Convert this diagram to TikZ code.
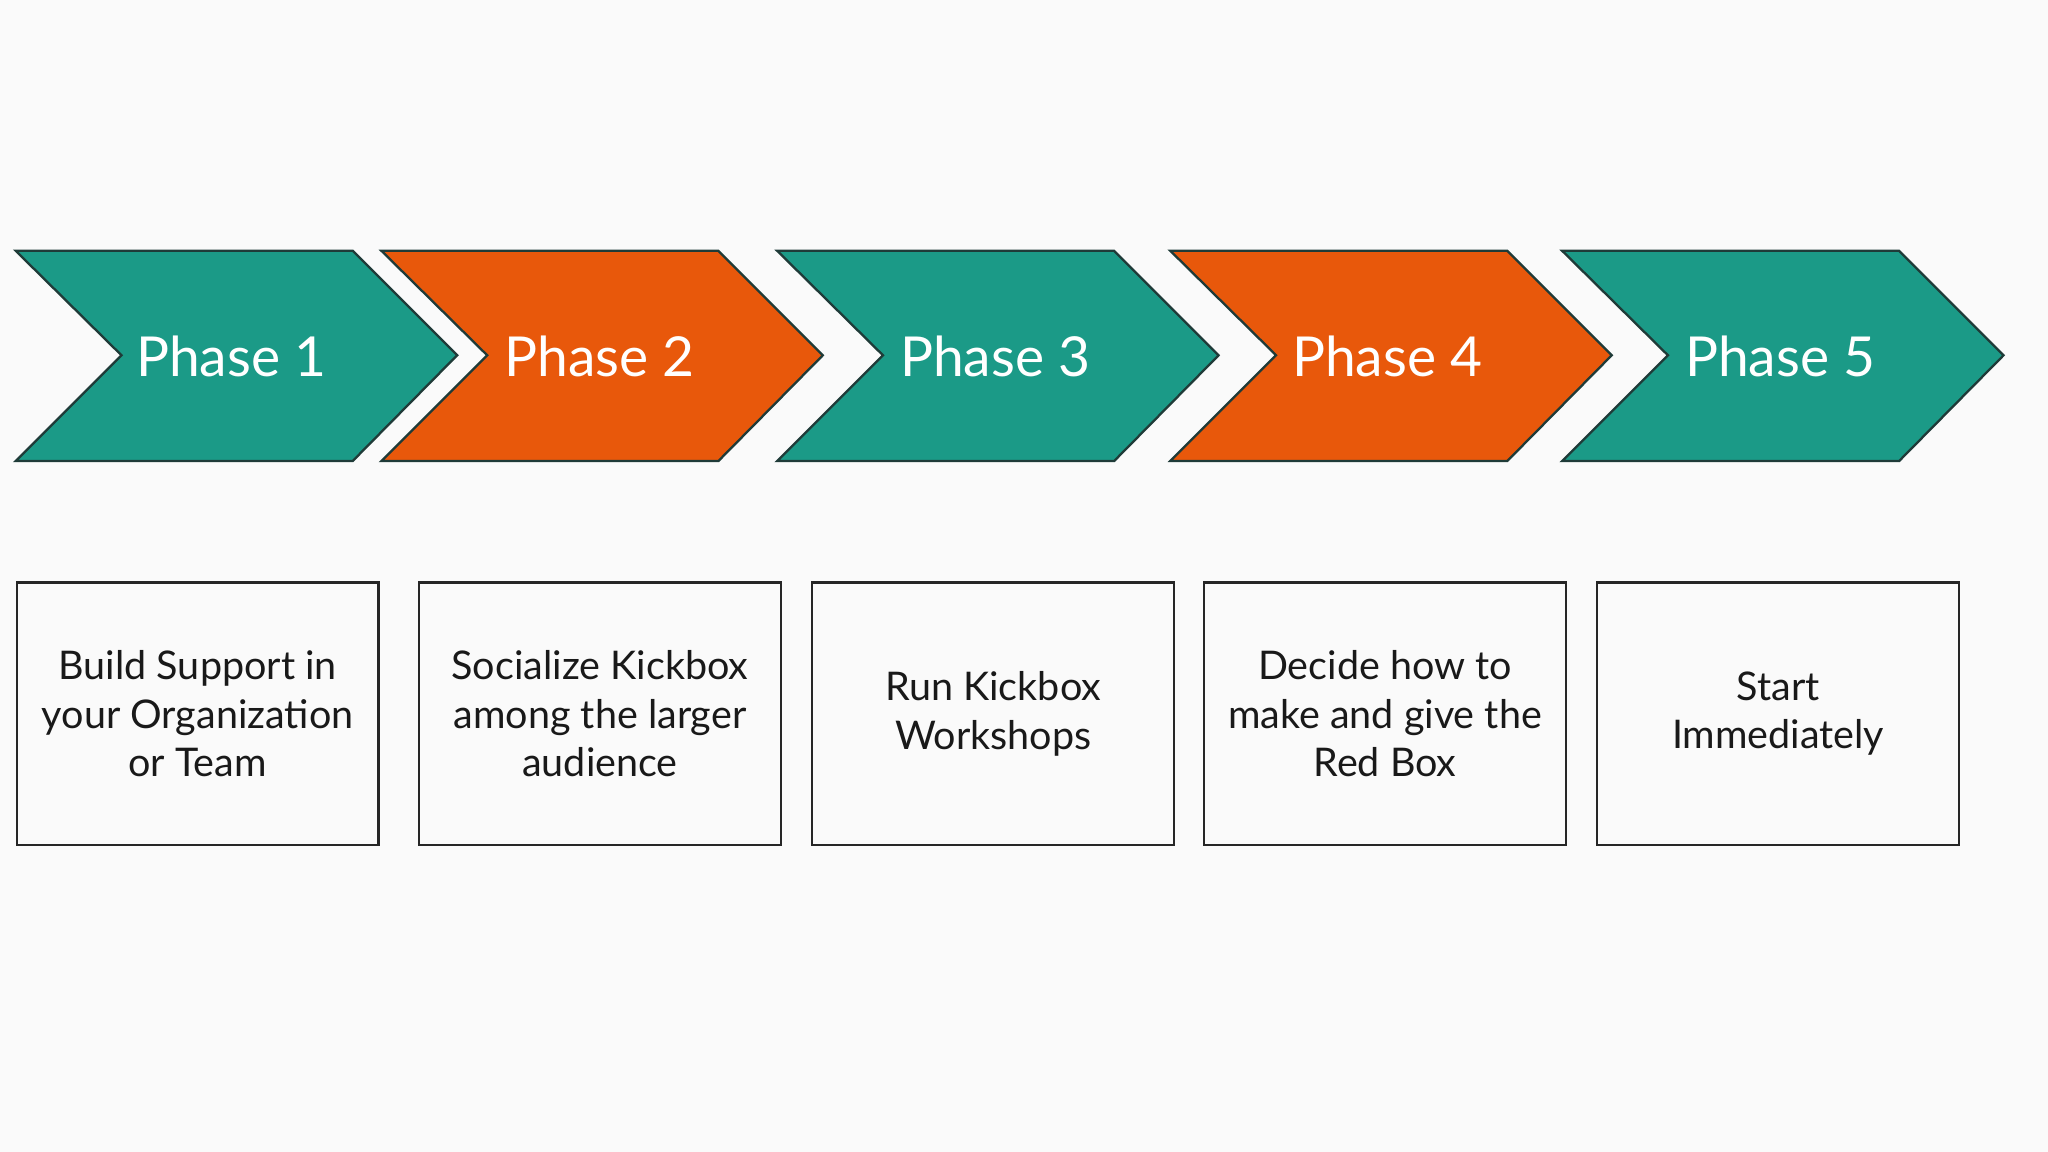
\documentclass[tikz,border=0pt]{standalone}
\usepackage{fontspec}
\setmainfont{Lato}
\definecolor{teal1}{HTML}{1B9A87}
\definecolor{orng}{HTML}{E8580B}
\definecolor{edge}{HTML}{1F3B38}
\begin{document}
\begin{tikzpicture}[x=0.01cm,y=-0.01cm,
  chev/.style={draw=edge,line width=0.5pt},
  ptext/.style={text=white,font=\fontsize{12}{14}\selectfont},
  box/.style={draw=black!85,line width=0.5pt,minimum width=277*0.01cm,minimum height=201*0.01cm,anchor=north west,inner sep=0},
  btext/.style={align=center,font=\fontsize{8.6}{10.6}\selectfont,text=black!90}]
\fill[white!98!black] (0,0) rectangle (1568,882);
\useasboundingbox (0,0) rectangle (1568,882);
\foreach \x/\c/\n in {12/teal1/1,292/orng/2,595/teal1/3,896/orng/4,1196/teal1/5}{
  \draw[chev,fill=\c] (\x,192) -- (\x+258,192) -- (\x+338,272) -- (\x+258,353) -- (\x,353) -- (\x+81,272) -- cycle;
}
\node[ptext] (p1) at (177,273) {Phase 1};
\node[ptext] (p2) at (459,273) {Phase 2};
\node[ptext] (p3) at (762,273) {Phase 3};
\node[ptext] (p4) at (1062,273) {Phase 4};
\node[ptext] (p5) at (1363,273) {Phase 5};
\node[box] (b1) at (12,445) {};
\node[box] (b2) at (320,445) {};
\node[box] (b3) at (621,445) {};
\node[box] (b4) at (921,445) {};
\node[box] (b5) at (1222,445) {};
\node[btext] at (b1.center) {Build Support in\\your Organization\\or Team};
\node[btext] at (b2.center) {Socialize Kickbox\\among the larger\\audience};
\node[btext] at (b3.center) {Run Kickbox\\Workshops};
\node[btext] at (b4.center) {Decide how to\\make and give the\\Red Box};
\node[btext] at (b5.center) {Start\\Immediately};
\end{tikzpicture}
\end{document}
